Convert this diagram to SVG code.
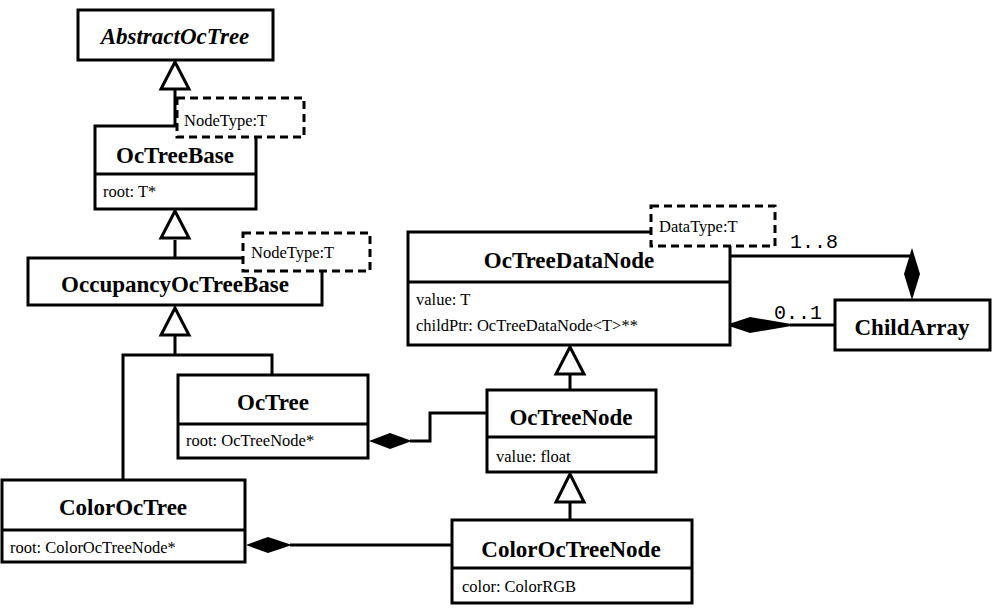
<svg xmlns="http://www.w3.org/2000/svg" width="1001" height="610" viewBox="0 0 1001 610">
<style>
.b{fill:#fff;stroke:#000;stroke-width:3}
.d{fill:#fff;stroke:#000;stroke-width:3;stroke-dasharray:8,5}
.t{font-weight:bold;font-size:23px;text-anchor:middle}
.a{font-size:16.5px}
.m{font-size:20px}
.l{fill:none;stroke:#000;stroke-width:3}
.tri{fill:#fff;stroke:#000;stroke-width:3}
</style>
<g id="connectors">
<polyline class="l" points="175,90 175,126"/>
<polygon class="tri" points="175,62 161,89 189,89"/>
<polyline class="l" points="175,240 175,258"/>
<polygon class="tri" points="175,211 161,238 189,238"/>
<polyline class="l" points="123,480 123,355 272,355 272,375"/>
<polyline class="l" points="175,336 175,355"/>
<polygon class="tri" points="175,308 161,335 189,335"/>
<polyline class="l" points="570,375 570,390"/>
<polygon class="tri" points="570,347 556,374 584,374"/>
<polyline class="l" points="570,503 570,520"/>
<polygon class="tri" points="570,474 556,502 584,502"/>
<polyline class="l" points="410,441 430,441 430,413 487,413"/>
<polygon points="369,441 390,433 412,441 390,449"/>
<polyline class="l" points="290,545 452,545"/>
<polygon points="246,545 268,537 292,545 268,553"/>
<polyline class="l" points="730,256 912,256 912,260"/>
<polygon points="912,248 904,274 912,300 920,274"/>
<polyline class="l" points="790,325 835,325"/>
<polygon points="726,325 750,317 797,325 750,333"/>
<g font-family="'Liberation Mono','DejaVu Sans Mono',monospace">
<text class="m" x="790" y="248">1..8</text>
<text class="m" x="774" y="319">0..1</text>
</g>
</g>
<g font-family="'Liberation Serif','Times New Roman','DejaVu Serif',serif">
<g id="AbstractOcTree">
<rect class="b" x="78" y="10" width="195" height="50"/>
<text class="t" x="175" y="44" font-style="italic">AbstractOcTree</text>
</g>
<g id="OcTreeBase">
<rect class="b" x="95" y="126" width="161" height="83"/>
<line class="l" x1="95" y1="174" x2="256" y2="174"/>
<text class="t" x="175" y="163">OcTreeBase</text>
<text class="a" x="103" y="197">root: T*</text>
<rect class="d" x="177" y="98" width="127" height="39"/>
<text class="a" x="184" y="126">NodeType:T</text>
</g>
<g id="OccupancyOcTreeBase">
<rect class="b" x="28" y="258" width="294" height="47"/>
<text class="t" x="175" y="292">OccupancyOcTreeBase</text>
<rect class="d" x="243" y="233" width="127" height="38"/>
<text class="a" x="251" y="258">NodeType:T</text>
</g>
<g id="OcTree">
<rect class="b" x="178" y="375" width="190" height="83"/>
<line class="l" x1="178" y1="424" x2="368" y2="424"/>
<text class="t" x="273" y="410">OcTree</text>
<text class="a" x="186" y="446">root: OcTreeNode*</text>
</g>
<g id="OcTreeNode">
<rect class="b" x="487" y="390" width="169" height="82"/>
<line class="l" x1="487" y1="437" x2="656" y2="437"/>
<text class="t" x="571" y="425">OcTreeNode</text>
<text class="a" x="496" y="462">value: float</text>
</g>
<g id="OcTreeDataNode">
<rect class="b" x="408" y="232" width="322" height="113"/>
<line class="l" x1="408" y1="282" x2="730" y2="282"/>
<text class="t" x="569" y="268">OcTreeDataNode</text>
<text class="a" x="416" y="305">value: T</text>
<text class="a" x="416" y="331">childPtr: OcTreeDataNode&lt;T&gt;**</text>
<rect class="d" x="651" y="206" width="124" height="40"/>
<text class="a" x="659" y="232">DataType:T</text>
</g>
<g id="ChildArray">
<rect class="b" x="835" y="300" width="155" height="50"/>
<text class="t" x="912" y="335">ChildArray</text>
</g>
<g id="ColorOcTree">
<rect class="b" x="2" y="480" width="243" height="82"/>
<line class="l" x1="2" y1="530" x2="245" y2="530"/>
<text class="t" x="123" y="515">ColorOcTree</text>
<text class="a" x="10" y="553">root: ColorOcTreeNode*</text>
</g>
<g id="ColorOcTreeNode">
<rect class="b" x="452" y="520" width="240" height="83"/>
<line class="l" x1="452" y1="568" x2="692" y2="568"/>
<text class="t" x="571" y="557">ColorOcTreeNode</text>
<text class="a" x="462" y="592">color: ColorRGB</text>
</g>
</g>
</svg>
